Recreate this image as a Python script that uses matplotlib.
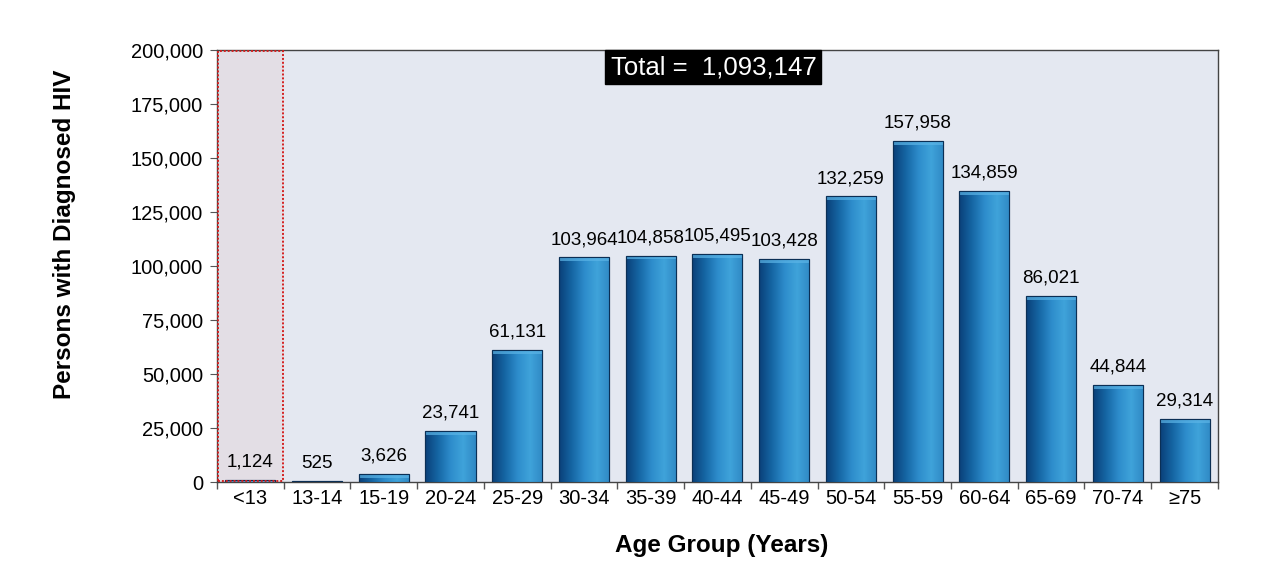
import numpy as np
import matplotlib
matplotlib.use("Agg")
import matplotlib.pyplot as plt
from matplotlib import patches
from matplotlib.colors import LinearSegmentedColormap

# data
ages = ["<13", "13-14", "15-19", "20-24", "25-29", "30-34", "35-39", "40-44",
        "45-49", "50-54", "55-59", "60-64", "65-69", "70-74", "\u226575"]
persons = [1124, 525, 3626, 23741, 61131, 103964, 104858, 105495,
           103428, 132259, 157958, 134859, 86021, 44844, 29314]
total = 1093147

plt.rcParams['font.family'] = ['Liberation Sans', 'DejaVu Sans']

fig = plt.figure(figsize=(12.8, 5.75), dpi=100)
ax = fig.add_axes([0.1695, 0.1617, 0.782, 0.7513])
ax.set_facecolor('#E4E8F1')

x = np.arange(len(ages))
w = 0.75
ymax = 200000

# highlighted first group
ax.add_patch(patches.Rectangle((-0.5, 0), 1.0, ymax, facecolor='#E3DEE5',
                               edgecolor='none', zorder=1))
ax.add_patch(patches.Rectangle((-0.49, 300), 0.98, ymax - 600, facecolor='none',
                               edgecolor='#D42020', ls=(0, (1, 1)), lw=1.4,
                               zorder=10, clip_on=False))

bars = ax.bar(x, persons, w, color='#1F6DA8', edgecolor='#0B2F55', lw=0.8,
              zorder=3)

# gradient fill for each bar
cmap = LinearSegmentedColormap.from_list('bar', ['#0A3F78', '#1565A3', '#2D8CCB', '#3FA3DA', '#2F88C4'])
grad = np.linspace(0, 1, 256).reshape(1, -1)
for b in bars:
    x0, y0 = b.get_x(), b.get_y()
    bw, bh = b.get_width(), b.get_height()
    im = ax.imshow(grad, cmap=cmap, aspect='auto', extent=(x0, x0 + bw, y0, y0 + bh),
                   zorder=3.5)
    im.set_clip_path(b)
    # top bevel highlight
    ax.add_patch(patches.Rectangle((x0, y0 + bh - min(bh, 1800)), bw, min(bh, 1800),
                                   facecolor='#5BB4E6', edgecolor='none', alpha=0.7,
                                   zorder=3.6))
    ax.add_patch(patches.Rectangle((x0, y0), bw, bh, facecolor='none',
                                   edgecolor='#0B2F55', lw=0.8, zorder=3.7))

for xi, v in zip(x, persons):
    ax.text(xi, v + 4300, f"{v:,}", ha='center', va='bottom', fontsize=13.5, zorder=5)

ax.set_xlim(-0.5, len(ages) - 0.5)
ax.set_ylim(0, ymax)
ax.set_yticks(np.arange(0, ymax + 1, 25000))
ax.yaxis.set_major_formatter(matplotlib.ticker.FuncFormatter(lambda v, p: f"{int(v):,}"))
ax.set_xticks(x)
ax.set_xticklabels(ages)
ax.set_xticks(np.arange(-0.5, len(ages), 1), minor=True)
ax.tick_params(axis='x', which='major', length=0, labelsize=14.5, pad=5)
ax.tick_params(axis='x', which='minor', length=5, direction='out', width=1, color='#555555')
ax.tick_params(axis='y', length=5, direction='out', labelsize=14.5, color='#555555', pad=5)
for s in ax.spines.values():
    s.set_color('#444444')
    s.set_linewidth(1)

ax.set_ylabel("Persons with Diagnosed HIV", fontsize=17.5, fontweight='bold')
ax.yaxis.set_label_coords(-0.152, 0.574)
ax.set_xlabel("Age Group (Years)", fontsize=17.5, fontweight='bold')
ax.xaxis.set_label_coords(0.504, -0.148)
ax.xaxis.label.set_va('center')
ax.yaxis.label.set_va('center')

ax.text(0.496, 0.988, f"Total =  {total:,}", transform=ax.transAxes, ha='center', va='top',
        fontsize=18.5, color='white', zorder=6,
        bbox=dict(boxstyle='square,pad=0.2', facecolor='black', edgecolor='black'))

fig.savefig("out.png", dpi=100)
